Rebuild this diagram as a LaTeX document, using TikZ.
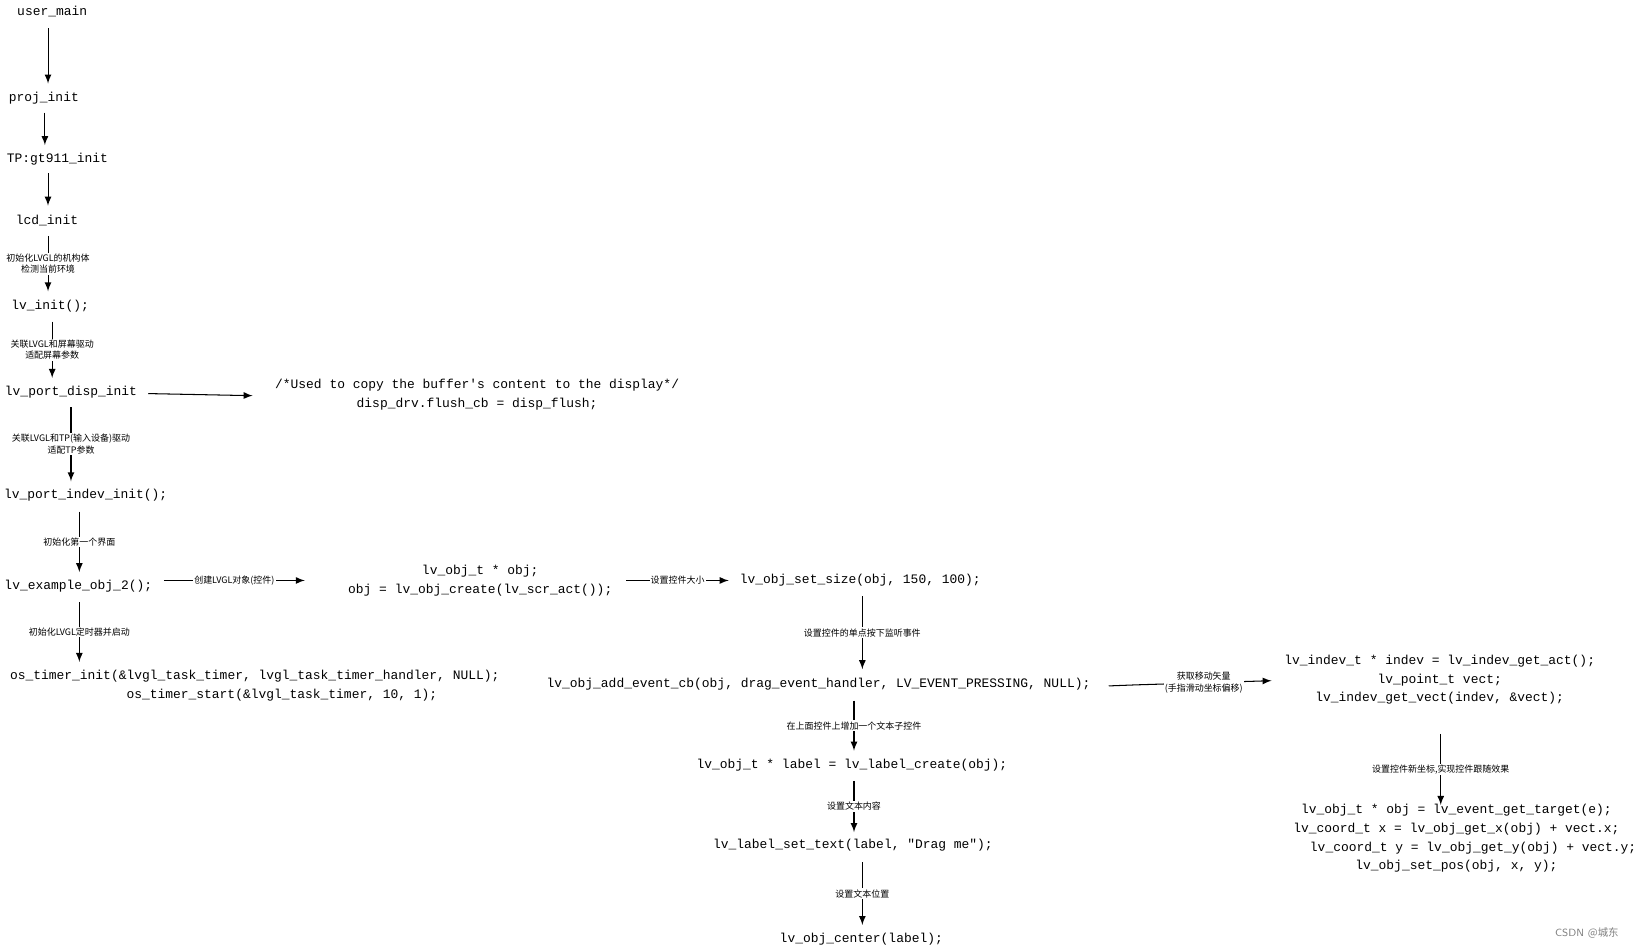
\documentclass[tikz,border=0pt]{standalone}
\usepackage{fontspec}
\setmonofont{Liberation Mono}
\newfontfamily\cjk{Noto Sans CJK SC}
\begin{document}
\begin{tikzpicture}[x=0.5pt,y=-0.5pt,
 code/.style={font=\ttfamily\fontsize{6.2}{9}\selectfont,inner sep=0pt,align=center},
 lab/.style={font=\cjk\fontsize{4.3}{5.5}\selectfont,inner sep=0.5pt,align=center,fill=white},
 arr/.style={-latex,line width=0.5pt},
 ln/.style={line width=0.5pt}]
\useasboundingbox (0,0) rectangle (1568,909);
\node[code] (um) at (50,11) {user\_main};
\node[code] (pi) at (42,94) {proj\_init};
\node[code] (tp) at (55,152) {TP:gt911\_init};
\node[code] (lcd) at (45,211) {lcd\_init};
\node[code] (lvi) at (48,293) {lv\_init();};
\node[code] (disp) at (68,376) {lv\_port\_disp\_init};
\node[code] (dcb) at (457,378) {/*Used to copy the buffer's content to the display*/\\disp\_drv.flush\_cb = disp\_flush;};
\node[code] (indev) at (82,474) {lv\_port\_indev\_init();};
\node[code] (ex) at (75,561) {lv\_example\_obj\_2();};
\node[code] (oc) at (460,556) {lv\_obj\_t * obj;\\obj = lv\_obj\_create(lv\_scr\_act());};
\node[code] (tim) at (244,657) {os\_timer\_init(\&lvgl\_task\_timer, lvgl\_task\_timer\_handler, NULL);\\\hspace*{26pt}os\_timer\_start(\&lvgl\_task\_timer, 10, 1);};
\node[code] (ss) at (824,556) {lv\_obj\_set\_size(obj, 150, 100);};
\node[code] (ev) at (784,655) {lv\_obj\_add\_event\_cb(obj, drag\_event\_handler, LV\_EVENT\_PRESSING, NULL);};
\node[code] (lc) at (816,733) {lv\_obj\_t * label = lv\_label\_create(obj);};
\node[code] (lt) at (817,810) {lv\_label\_set\_text(label, "Drag me");};
\node[code] (cen) at (825,900) {lv\_obj\_center(label);};
\node[code] (iv) at (1379,651) {lv\_indev\_t * indev = lv\_indev\_get\_act();\\lv\_point\_t vect;\\lv\_indev\_get\_vect(indev, \&vect);};
\node[code] (pos) at (1395,803) {lv\_obj\_t * obj = lv\_event\_get\_target(e);\\lv\_coord\_t x = lv\_obj\_get\_x(obj) + vect.x;\\\hspace*{16pt}lv\_coord\_t y = lv\_obj\_get\_y(obj) + vect.y;\\lv\_obj\_set\_pos(obj, x, y);};
\node[text=gray,font=\fontsize{5}{6}\selectfont\sffamily] (wm) at (1520,894) {CSDN {\cjk @城东}};

\draw[arr] (46,27) -- (46,80);
\draw[arr] (43,108) -- (43,139);
\draw[arr] (46,166) -- (46,197);
\draw[arr] (46,226) -- node[lab]{初始化LVGL的机构体\\检测当前环境} (46,279);
\draw[arr] (50,308) -- node[lab]{关联LVGL和屏幕驱动\\适配屏幕参数} (50,362);
\draw[arr] (142,377) -- (242,379);
\draw[arr] (68,390) -- node[lab]{关联LVGL和TP(输入设备)驱动\\适配TP参数} (68,461);
\draw[arr] (76,490) -- node[lab]{初始化第一个界面} (76,548);
\draw[arr] (157,556) -- node[lab]{创建LVGL对象(控件)} (292,556);
\draw[arr] (76,577) -- node[lab]{初始化LVGL定时器并启动} (76,634);
\draw[arr] (600,556) -- node[lab]{设置控件大小} (698,556);
\draw[arr] (826,571) -- node[lab]{设置控件的单点按下监听事件} (826,641);
\draw[arr] (818,671) -- node[lab]{在上面控件上增加一个文本子控件} (818,719);
\draw[arr] (818,748) -- node[lab]{设置文本内容} (818,797);
\draw[arr] (826,826) -- node[lab]{设置文本位置} (826,886);
\draw[arr] (1062,657) -- (1088,656) -- node[lab]{获取移动矢量\\(手指滑动坐标偏移)} (1218,652);
\draw[arr] (1380,703) -- node[lab]{设置控件新坐标,实现控件跟随效果} (1380,771);
\end{tikzpicture}
\end{document}
